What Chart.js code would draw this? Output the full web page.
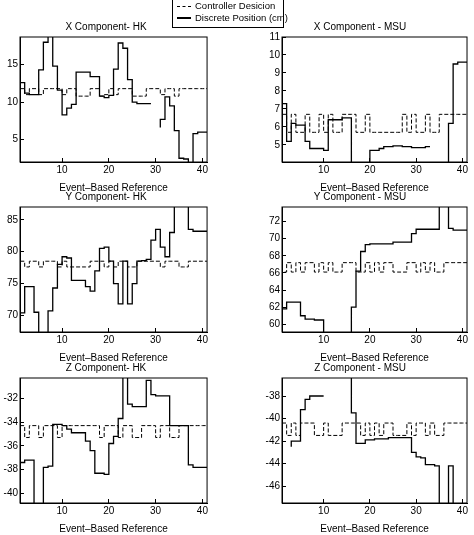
<!DOCTYPE html>
<html><head><meta charset="utf-8">
<script src="https://cdn.jsdelivr.net/npm/chart.js@4/dist/chart.umd.min.js"></script>
<style>
body{margin:0;background:#fff;width:474px;height:535px;position:relative;overflow:hidden;font-family:"Liberation Sans",Arial,sans-serif}
.p{position:absolute}
#legend{position:absolute;left:172px;top:0;width:110px;height:27px;border:1px solid #000;border-top:none;font-size:9.5px;line-height:12px;background:#fff;z-index:2}
#legend div{white-space:nowrap;padding-left:4px}
#legend span{display:inline-block;width:14px;border-top:1px solid #000;vertical-align:middle;margin-right:4px}
</style></head><body>
<div id="legend"><div><span style="border-top-style:dashed"></span>Controller Desicion</div><div><span style="border-top-width:2px"></span>Discrete Position (cm)</div></div>
<canvas id="c0" class="p"></canvas><canvas id="c1" class="p"></canvas>
<canvas id="c2" class="p"></canvas><canvas id="c3" class="p"></canvas>
<canvas id="c4" class="p"></canvas><canvas id="c5" class="p"></canvas>
<script>
// event index 1..40
const titles = ["X Component- HK", "X Component - MSU", "Y Component- HK", "Y Component - MSU", "Z Component- HK", "Z Component - MSU"];

const xhkPos = [12.6,12.6,11.2,11,11,14.3,18,19.5,14.8,11.6,8.3,9.2,9.7,14,14,14,13.4,13.4,10.8,10.6,10.9,14.4,17.9,17.2,13,10,9.8,9.8,9.8,null,6.6,7.7,10.7,9.5,6.2,2.5,2.4,1,5.8,6];
const xhkCtl = [11,11.8,11,11.8,11.8,11,11.8,11.8,11.8,11.8,11,11.8,11.8,10.8,10.8,10.8,11.8,11.8,10.8,11,11.8,11,11.8,11.8,11.8,10.8,10.8,10.8,11.8,11.8,11.8,11,11.8,11.8,10.8,11.8,11.8,11.8,11.8,11.8];

const xmsuPos = [11.5,7.3,5.2,6.2,6.1,6.1,5.2,4.8,4.8,4.8,4.7,6.4,6.4,6.4,6.5,6.5,3.9,4,4,4,4.7,4.7,4.8,4.9,4.9,4.95,4.95,4.9,4.9,4.85,4.85,4.85,4.9,null,4,4,4,6.2,9.5,9.6];
const xmsuCtl = [6.7,6.7,5.7,6.7,5.7,5.7,6.7,5.7,5.7,6.7,5.7,6.7,5.7,5.7,6.7,6.7,6.7,5.7,5.7,6.7,5.7,5.7,5.7,5.7,5.7,5.7,5.7,6.7,5.7,6.7,5.7,5.7,6.7,5.7,5.7,6.7,6.7,6.7,6.7,6.7];

const yhkPos = [67.3,70.4,74.5,74.5,70.5,66,66,70.7,74.3,78,79.2,79,75.5,75.5,75.5,74.5,73.8,77,80.5,80.7,78.5,75,71.8,78.5,71.8,75,78.5,78.6,78.8,81.8,83.5,80.7,79.2,83,88,88,88,83.5,83.2,83.2];
const yhkCtl = [77.6,78.5,77.6,78.5,78.5,77.6,78.5,78.5,78.5,77.6,78.5,77.6,77.6,77.6,77.6,77.6,78.5,78.5,78.5,77.6,78.5,77.6,78.5,78.5,77.6,77.6,78.5,78.5,78.5,78.5,78.5,77.6,78.5,78.5,78.5,77.6,77.6,78.5,78.5,78.5];

const ymsuPos = [61.8,61.8,62.6,62.6,62.6,61,60.6,60.6,60.5,60.5,58,58,58,58,58,58,62,66.2,68.5,69.3,69.4,69.4,69.4,69.4,69.4,69.6,69.6,69.6,69.6,70.6,71.1,71.1,71.1,71.1,71.1,74.5,74.5,71.2,71,71];
const ymsuCtl = [67.2,66.1,67.2,66.1,67.2,66.1,67.2,67.2,66.1,67.2,66.1,67.2,66.1,66.1,67.2,67.2,67.2,66.1,66.1,67.2,66.1,67.2,66.1,67.2,67.2,66.1,66.1,66.1,67.2,67.2,66.1,67.2,66.1,67.2,66.1,66.1,67.2,67.2,67.2,67.2];

const zhkPos = [-39.2,-37.4,-37.2,-37.2,-41,-41,-37.8,-37.7,-34.2,-34.2,-34.3,-34.6,-34.9,-34.9,-34.9,-35.6,-36.4,-38.3,-38.3,-38.4,-35.8,-35.2,-33.7,-29,-32.5,-32.7,-32.7,-32.7,-30.5,-31.7,-31.8,-31.8,-31.8,-34.3,-34.3,-34.3,-34.3,-37.6,-37.8,-37.8];
const zhkCtl = [-35.3,-34.3,-35.3,-34.3,-34.3,-35.3,-34.3,-34.3,-34.3,-35.3,-34.3,-34.3,-34.3,-34.3,-34.3,-34.3,-34.3,-34.3,-35.3,-34.3,-34.3,-34.3,-35.3,-34.3,-34.3,-35.3,-35.3,-34.3,-34.3,-34.3,-35.3,-34.3,-34.3,-35.3,-35.3,-34.3,-34.3,-34.3,-34.3,-34.3];

const zmsuPos = [null,null,-42.5,-42,-42,-39.2,-38.3,-38,-38,-38,null,null,null,null,null,-36,-39.5,-42.2,-42.2,-41.9,-41.9,-41.8,-41.8,-41.8,-41.7,-41.7,-41.7,-41.7,-41.7,-43,-43.4,-43.5,-44.1,-44.1,-44.2,-48,-48,-44.2,-48,-48];
const zmsuCtl = [-40.4,-40.4,-41.5,-40.4,-41.5,-40.4,-40.4,-40.4,-41.5,-41.5,-40.4,-41.5,-41.5,-41.5,-40.4,-40.4,-40.4,-40.4,-41.5,-40.4,-41.5,-40.4,-41.5,-40.4,-40.4,-41.5,-41.5,-41.5,-40.4,-41.5,-40.4,-40.4,-41.5,-40.4,-41.5,-41.5,-40.4,-40.4,-40.4,-40.4];

const xTicks = [10, 20, 30, 40];
const yRanges = [[2,18.7,5],[4.05,11,1],[67.4,87,5],[59.1,73.7,2],[-40.8,-30.3,2],[-47.5,-36.4,2]];
const series = [[xhkCtl,xhkPos],[xmsuCtl,xmsuPos],[yhkCtl,yhkPos],[ymsuCtl,ymsuPos],[zhkCtl,zhkPos],[zmsuCtl,zmsuPos]];

function pts(v) {
  const p = v.map((y, i) => ({x: i + 1, y: y}));
  p.push({x: 41, y: v[v.length - 1]});
  return p;
}

const boxPlugin = {
  id: 'box',
  afterDraw(ch) {
    const a = ch.chartArea, c = ch.ctx;
    c.save(); c.strokeStyle = '#000'; c.lineWidth = 1;
    c.strokeRect(a.left, a.top, a.right - a.left, a.bottom - a.top);
    c.restore();
  }
};

const pos = [[0,21],[248,21],[0,191],[248,191],[0,362],[248,362]];
const font = {family: '"Liberation Sans", Arial, sans-serif', size: 10};

series.forEach((s, k) => {
  const cv = document.getElementById('c' + k);
  cv.style.left = pos[k][0] + 'px'; cv.style.top = pos[k][1] + 'px';
  cv.style.width = (k % 2 ? 226 : 214) + 'px'; cv.style.height = '173px';
  const r = yRanges[k];
  new Chart(cv, {
    type: 'line',
    data: {datasets: [
      {data: pts(s[0]), borderColor: '#000', borderWidth: 1, borderDash: [4, 2], stepped: 'after', pointRadius: 0},
      {data: pts(s[1]), borderColor: '#000', borderWidth: 1.3, stepped: 'after', pointRadius: 0}
    ]},
    options: {
      responsive: false, animation: false, devicePixelRatio: 1,
      layout: {padding: {left: 0, right: 2, top: 0, bottom: 0}},
      plugins: {legend: {display: false}, tooltip: {enabled: false},
        title: {display: true, text: titles[k], color: '#000', font: {...font, weight: 'normal'}, padding: {top: 0, bottom: 4}}},
      scales: {
        x: {type: 'linear', min: 1, max: 41,
          afterBuildTicks: ax => { ax.ticks = xTicks.map(v => ({value: v})); },
          grid: {drawOnChartArea: false, tickLength: -4, color: '#000'},
          border: {color: '#000'},
          ticks: {color: '#000', font: font, padding: 6, maxRotation: 0},
          title: {display: true, text: 'Event\u2013Based Reference', color: '#000', font: font, padding: 0}},
        y: {min: r[0], max: r[1],
          afterBuildTicks: ax => { const t = []; for (let v = Math.ceil(r[0] / r[2]) * r[2]; v <= r[1]; v += r[2]) t.push({value: v}); ax.ticks = t; },
          afterFit: ax => { ax.width = k % 2 ? 34 : 20; },
          grid: {drawOnChartArea: false, tickLength: -4, color: '#000'},
          border: {color: '#000'},
          ticks: {color: '#000', font: font, padding: 6}}
      }
    },
    plugins: [boxPlugin]
  });
});
</script>
</body></html>
